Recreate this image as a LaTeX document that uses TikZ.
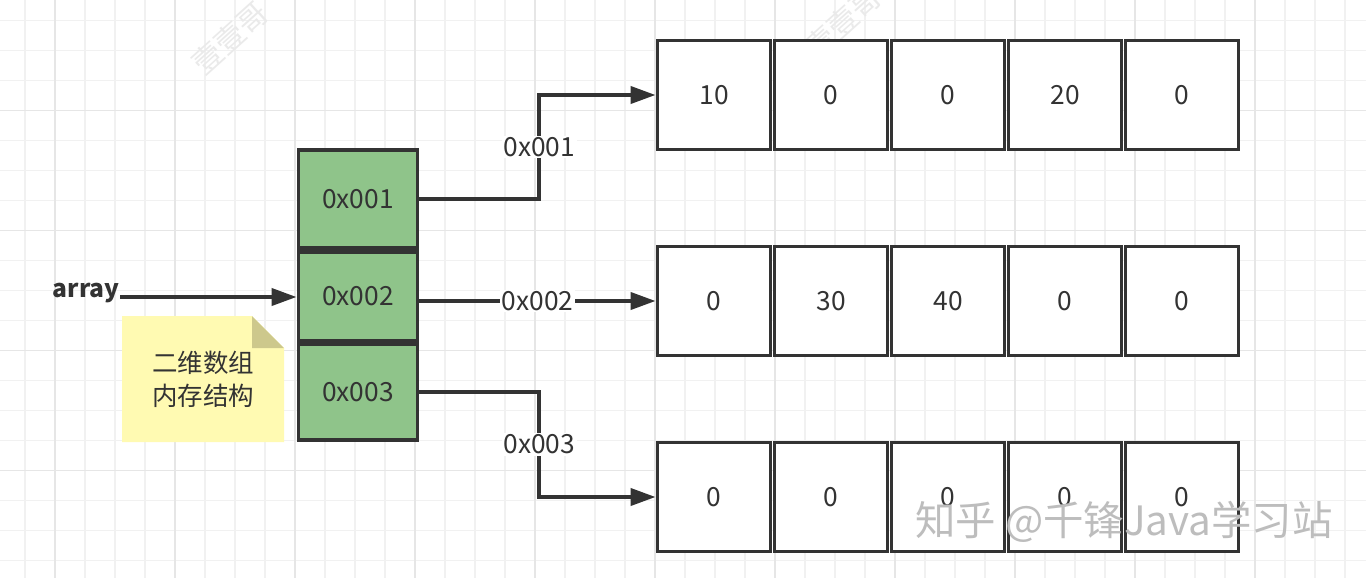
\documentclass[tikz,border=0pt]{standalone}
\usepackage{fontspec}
\setmainfont{Noto Sans CJK SC}
\usetikzlibrary{positioning,arrows.meta}
\definecolor{primary}{HTML}{333333}
\definecolor{gridfine}{HTML}{F1F1F1}
\definecolor{gridbold}{HTML}{E6E6E6}
\definecolor{addrgreen}{HTML}{8FC48A}
\definecolor{notefill}{HTML}{FFFAB2}
\definecolor{notefold}{HTML}{CDC88C}
\definecolor{wmgray}{HTML}{BDBDBD}
\definecolor{wmfaint}{HTML}{EAEAEA}

\tikzset{
  cell/.style={draw=primary, line width=2.2pt, fill=white, minimum width=2.26cm,
    minimum height=2.18cm, inner sep=0pt, text=primary, font=\fontsize{15}{18}\selectfont},
  addr/.style={cell, fill=addrgreen, minimum width=2.38cm},
  link/.style={draw=primary, line width=2.2pt, -{Triangle[length=0.5cm,width=0.34cm]}},
  lbl/.style={fill=white, inner sep=1pt, text=primary, font=\fontsize{15}{18}\selectfont}
}

\begin{document}
\begin{tikzpicture}[x=0.02cm, y=-0.02cm]
  % Fondo y cuadricula
  \fill[white] (0,0) rectangle (1366,578);
  \useasboundingbox (0,0) rectangle (1366,578);
  \foreach \gx in {25,55,...,1345}
    \draw[gridfine, line width=0.6pt] (\gx,0) -- (\gx,578);
  \foreach \gy in {20.7,50.7,...,570}
    \draw[gridfine, line width=0.6pt] (0,\gy) -- (1366,\gy);
  \foreach \gx in {55,175,...,1345}
    \draw[gridbold, line width=0.6pt] (\gx,0) -- (\gx,578);
  \foreach \gy in {110.7,230.7,...,570}
    \draw[gridbold, line width=0.6pt] (0,\gy) -- (1366,\gy);

  % Marcas de agua
  \node[text=wmfaint, rotate=42, font=\fontsize{17}{20}\selectfont] (wmleft) at (230,38) {壹壹哥};
  \node[text=wmfaint, rotate=42, font=\fontsize{17}{20}\selectfont] (wmright) at (843,22) {壹壹哥};

  % Columna de direcciones
  \node[addr, minimum height=1.95cm] (addr1) at (358,199) {0x001};
  \node[addr, minimum height=1.78cm, below=0pt of addr1] (addr2) {0x002};
  \node[addr, minimum height=1.91cm, below=0pt of addr2] (addr3) {0x003};

  % Filas del arreglo
  \foreach \y/\vals [count=\r] in {95/{10,0,0,20,0}, 301/{0,30,40,0,0}, 497/{0,0,0,0,0}}
    \foreach \v [count=\c] in \vals
      \node[cell] (row\r-\c) at ({714+(\c-1)*117},\y) {\v};

  % Referencia array
  \node[anchor=base east, inner sep=0pt, text=primary, font=\fontsize{14}{17}\selectfont\bfseries] (arrname) at (120,297) {array};
  \draw[link] (arrname.base east) -- (arrname.base east -| addr2.west);

  % Nota
  \fill[notefill] (122,316) -- (252,316) -- (284,348) -- (284,442) -- (122,442) -- cycle;
  \fill[notefold] (252,316) -- (284,348) -- (252,348) -- cycle;
  \node[text=primary, align=center, font=\fontsize{14.5}{18.7}\selectfont] (notetext) at (203,379) {二维数组\\内存结构};

  % Conexiones
  \draw[link] (addr1.east) -- ++(120,0) |- node[lbl, pos=0.25] {0x001} (row1-1.west);
  \draw[link] (addr2.east |- row2-1.west) -- node[lbl] {0x002} (row2-1.west);
  \draw[link] (addr3.east) -- ++(120,0) |- node[lbl, pos=0.25] {0x003} (row3-1.west);

  \node[text=wmgray, font=\fontsize{23}{27}\selectfont] (zhihu) at (1124,522) {知乎 @千锋Java学习站};
\end{tikzpicture}
\end{document}
